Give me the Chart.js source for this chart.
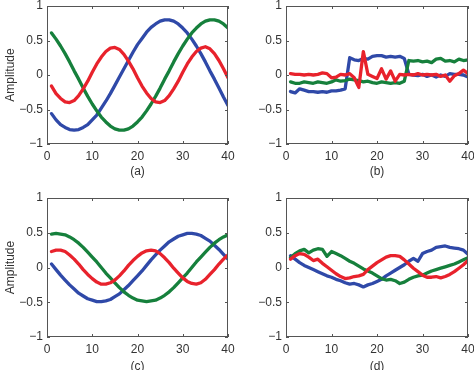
<!DOCTYPE html>
<html>
<head>
<meta charset="utf-8">
<script src="https://cdn.jsdelivr.net/npm/chart.js@4/dist/chart.umd.min.js"></script>
<style>
    html, body { margin: 0; padding: 0; background: #fff; overflow: hidden; }
    #wrap { position: relative; width: 474px; height: 370px; overflow: hidden; }
    canvas { position: absolute; }
</style>
</head>
<body>
<div id="wrap">
    <canvas id="panelA" width="237" height="185" style="left:0;top:0"></canvas>
    <canvas id="panelB" width="237" height="185" style="left:237px;top:0"></canvas>
    <canvas id="panelC" width="237" height="195" style="left:0;top:185px"></canvas>
    <canvas id="panelD" width="237" height="195" style="left:237px;top:185px"></canvas>
</div>
<script>
// sample index (x axis)
const xValues = [1,2,3,4,5,6,7,8,9,10,11,12,13,14,15,16,17,18,19,20,
                 21,22,23,24,25,26,27,28,29,30,31,32,33,34,35,36,37,38,39,40];
const xTicks = [0, 10, 20, 30, 40];
const yTicks = [-1, -0.5, 0, 0.5, 1];

// (a)
const aBlue = [-0.56,-0.65,-0.72,-0.76,-0.79,-0.80,-0.79,-0.76,-0.72,-0.65,-0.58,-0.48,-0.38,-0.27,-0.15,-0.03,0.09,0.21,0.33,0.44,
               0.53,0.62,0.69,0.74,0.78,0.80,0.80,0.78,0.74,0.68,0.61,0.52,0.42,0.31,0.19,0.06,-0.06,-0.19,-0.32,-0.44];
const aGreen = [0.61,0.52,0.42,0.31,0.19,0.06,-0.06,-0.19,-0.31,-0.42,-0.52,-0.61,-0.68,-0.74,-0.78,-0.80,-0.80,-0.78,-0.74,-0.68,
                -0.61,-0.52,-0.42,-0.31,-0.19,-0.06,0.06,0.19,0.31,0.42,0.52,0.61,0.68,0.74,0.78,0.80,0.80,0.78,0.74,0.68];
const aRed = [-0.16,-0.27,-0.34,-0.39,-0.40,-0.37,-0.30,-0.20,-0.09,0.04,0.16,0.26,0.34,0.39,0.40,0.37,0.30,0.20,0.09,-0.04,
              -0.16,-0.26,-0.34,-0.39,-0.40,-0.37,-0.30,-0.20,-0.09,0.04,0.16,0.26,0.34,0.39,0.41,0.38,0.31,0.21,0.09,-0.04];

// (b)
const bBlue = [-0.24,-0.26,-0.20,-0.22,-0.24,-0.24,-0.25,-0.24,-0.25,-0.23,-0.23,-0.22,-0.20,0.25,0.22,0.21,0.24,0.23,0.27,0.28,
               0.28,0.26,0.27,0.26,0.27,0.24,0.01,0.00,-0.01,0.01,-0.02,0.00,-0.03,0.00,-0.02,0.02,0.01,0.01,0.00,-0.03];
const bGreen = [-0.10,-0.12,-0.12,-0.10,-0.11,-0.12,-0.10,-0.11,-0.12,-0.10,-0.07,-0.09,-0.08,-0.06,-0.07,-0.08,-0.10,-0.09,-0.11,-0.12,
                -0.10,-0.11,-0.12,-0.11,-0.12,-0.09,0.21,0.20,0.21,0.19,0.20,0.18,0.23,0.24,0.20,0.21,0.19,0.23,0.21,0.22];
const bRed = [0.02,0.01,0.01,0.00,0.01,0.00,0.01,0.03,0.02,-0.04,-0.03,0.01,0.00,0.02,-0.04,-0.18,0.34,0.01,-0.02,-0.05,
              0.09,-0.06,0.06,-0.09,0.01,0.00,0.01,0.00,0.02,0.00,0.01,0.00,0.01,-0.02,0.00,-0.09,-0.01,0.02,0.07,0.02];

// (c)
const cBlue = [0.05,-0.03,-0.11,-0.18,-0.25,-0.31,-0.37,-0.41,-0.45,-0.47,-0.49,-0.49,-0.48,-0.46,-0.42,-0.38,-0.32,-0.26,-0.19,-0.12,
               -0.05,0.03,0.11,0.18,0.25,0.31,0.37,0.41,0.45,0.47,0.49,0.49,0.48,0.46,0.42,0.38,0.32,0.26,0.19,0.12];
const cGreen = [0.48,0.49,0.48,0.47,0.44,0.40,0.35,0.29,0.22,0.15,0.08,0.00,-0.08,-0.15,-0.22,-0.29,-0.35,-0.40,-0.44,-0.47,
                -0.48,-0.49,-0.48,-0.47,-0.44,-0.40,-0.35,-0.29,-0.22,-0.15,-0.08,0.00,0.08,0.15,0.22,0.29,0.35,0.40,0.44,0.47];
const cRed = [0.23,0.25,0.25,0.23,0.18,0.12,0.05,-0.03,-0.10,-0.16,-0.21,-0.24,-0.24,-0.22,-0.18,-0.12,-0.05,0.03,0.10,0.16,
              0.21,0.24,0.25,0.24,0.20,0.14,0.07,-0.01,-0.08,-0.15,-0.20,-0.23,-0.24,-0.22,-0.17,-0.10,-0.03,0.05,0.12,0.18];

// (d)
const dBlue = [0.17,0.12,0.07,0.03,0.00,-0.03,-0.06,-0.09,-0.12,-0.14,-0.17,-0.19,-0.22,-0.24,-0.23,-0.25,-0.28,-0.25,-0.23,-0.20,
               -0.17,-0.12,-0.08,-0.04,0.00,0.04,0.09,0.13,0.09,0.20,0.23,0.25,0.29,0.30,0.31,0.29,0.28,0.27,0.25,0.19];
const dGreen = [0.14,0.20,0.24,0.26,0.21,0.25,0.27,0.26,0.16,0.23,0.20,0.17,0.13,0.09,0.06,0.02,-0.02,-0.05,-0.08,-0.12,
                -0.16,-0.18,-0.17,-0.19,-0.23,-0.21,-0.17,-0.14,-0.12,-0.11,-0.08,-0.05,-0.03,-0.01,0.01,0.03,0.05,0.08,0.11,0.14];
const dRed = [0.12,0.17,0.20,0.19,0.15,0.10,0.12,0.06,0.01,-0.04,-0.09,-0.13,-0.16,-0.15,-0.13,-0.12,-0.10,-0.03,0.02,0.07,
              0.11,0.15,0.17,0.17,0.16,0.11,0.05,-0.01,-0.06,-0.11,-0.14,-0.14,-0.13,-0.15,-0.13,-0.10,-0.06,-0.01,0.04,0.10];

const BLUE = '#2f49a8';
const GREEN = '#16803c';
const RED = '#e8222c';
const AXIS = '#555555';
const TEXT = '#333333';
const FONT = { family: '"Liberation Sans", Arial, sans-serif', size: 12 };

// MATLAB style box with inward tick marks
const boxPlugin = {
    id: 'box',
    afterDraw(chart) {
        const { ctx, chartArea: a, scales: { x, y } } = chart;
        ctx.save();
        ctx.strokeStyle = AXIS;
        ctx.lineWidth = 1;
        ctx.strokeRect(a.left + 0.5, a.top + 0.5, a.right - a.left - 1, a.bottom - a.top - 1);
        ctx.beginPath();
        x.ticks.forEach(t => {
            const px = Math.round(x.getPixelForValue(t.value)) + 0.5;
            ctx.moveTo(px, a.bottom); ctx.lineTo(px, a.bottom - 3);
            ctx.moveTo(px, a.top); ctx.lineTo(px, a.top + 3);
        });
        y.ticks.forEach(t => {
            const py = Math.round(y.getPixelForValue(t.value)) + 0.5;
            ctx.moveTo(a.left, py); ctx.lineTo(a.left + 3, py);
            ctx.moveTo(a.right, py); ctx.lineTo(a.right - 3, py);
        });
        ctx.stroke();
        ctx.restore();
    }
};

function series(values, color, order) {
    return {
        data: values.map((v, i) => ({ x: xValues[i], y: v })),
        borderColor: color,
        borderWidth: 3.3,
        borderCapStyle: 'round',
        borderJoinStyle: 'round',
        pointRadius: 0,
        tension: 0,
        fill: false,
        order: order
    };
}

function makePanel(id, blue, green, red, opts) {
    new Chart(document.getElementById(id), {
        type: 'line',
        data: {
            datasets: [series(red, RED, 0), series(green, GREEN, 1), series(blue, BLUE, 2)]
        },
        options: {
            responsive: false,
            animation: false,
            devicePixelRatio: 1,
            layout: { padding: { left: 0, top: opts.top, right: opts.right, bottom: 0 } },
            plugins: { legend: { display: false }, tooltip: { enabled: false } },
            scales: {
                x: {
                    type: 'linear',
                    min: xTicks[0],
                    max: xTicks[xTicks.length - 1],
                    afterBuildTicks: s => { s.ticks = xTicks.map(v => ({ value: v })); },
                    afterFit: s => { s.height = opts.xHeight; s.paddingLeft = 0; s.paddingRight = 0; },
                    grid: { display: false, drawTicks: false },
                    border: { display: false },
                    ticks: { padding: 5, color: TEXT, font: FONT, maxRotation: 0 },
                    title: { display: true, text: opts.label, color: TEXT, font: FONT, padding: { top: 0, bottom: opts.labelPad } }
                },
                y: {
                    type: 'linear',
                    min: yTicks[0],
                    max: yTicks[yTicks.length - 1],
                    afterBuildTicks: s => { s.ticks = yTicks.map(v => ({ value: v })); },
                    afterFit: s => { s.width = opts.yWidth; s.paddingTop = 0; s.paddingBottom = 0; },
                    grid: { display: false, drawTicks: false },
                    border: { display: false },
                    ticks: {
                        padding: 4, color: TEXT, font: FONT,
                        callback: v => (v < 0 ? '\u2212' + Math.abs(v) : String(v))
                    },
                    title: { display: opts.yTitle !== '', text: opts.yTitle, color: TEXT, font: FONT, padding: { top: 3, bottom: 0 } }
                }
            }
        },
        plugins: [boxPlugin]
    });
}

makePanel('panelA', aBlue, aGreen, aRed, { top: 6, right: 9, xHeight: 41, yWidth: 47, label: '(a)', labelPad: 6, yTitle: 'Amplitude' });
makePanel('panelB', bBlue, bGreen, bRed, { top: 6, right: 6, xHeight: 41, yWidth: 49, label: '(b)', labelPad: 6, yTitle: '' });
makePanel('panelC', cBlue, cGreen, cRed, { top: 13, right: 9, xHeight: 43, yWidth: 47, label: '(c)', labelPad: 6, yTitle: 'Amplitude' });
makePanel('panelD', dBlue, dGreen, dRed, { top: 13, right: 6, xHeight: 43, yWidth: 49, label: '(d)', labelPad: 6, yTitle: '' });
</script>
</body>
</html>
